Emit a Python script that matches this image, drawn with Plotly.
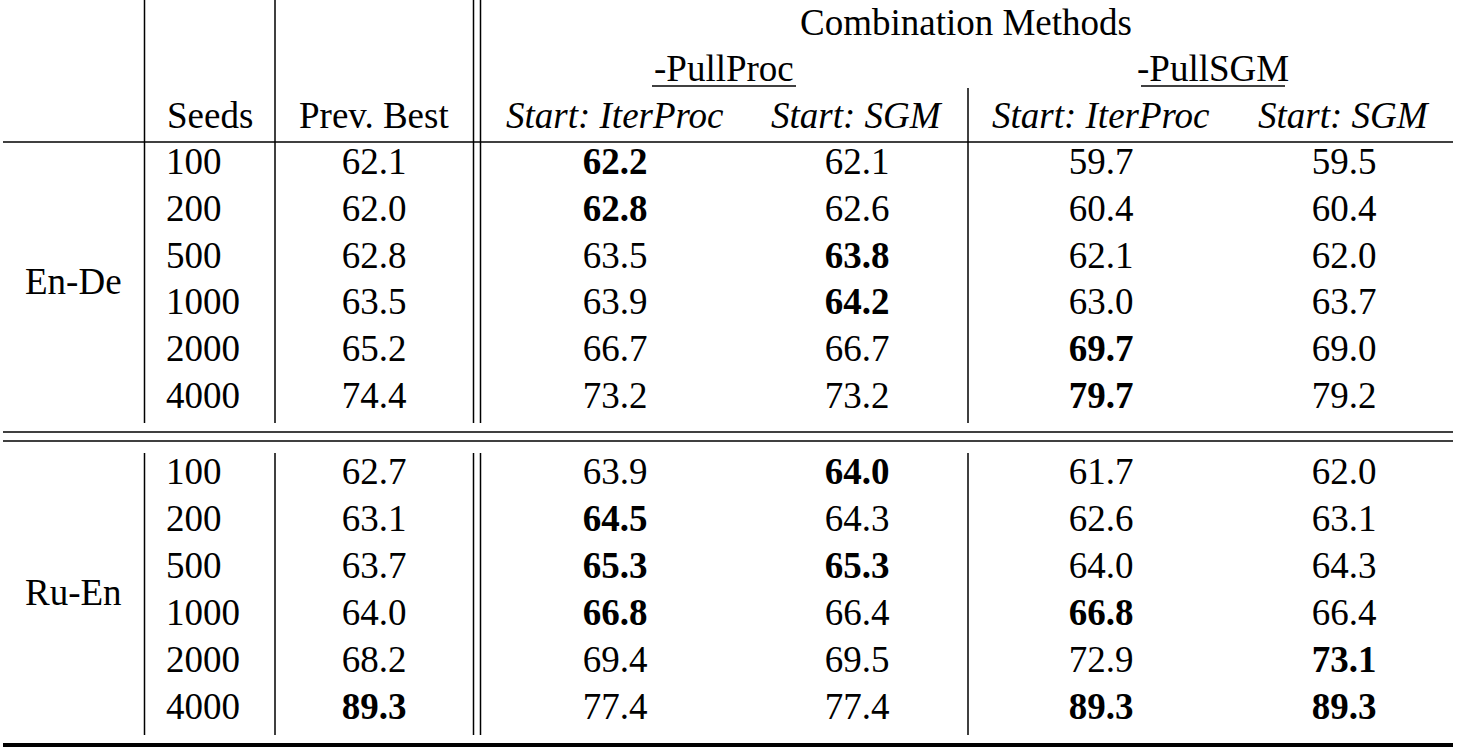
import plotly.graph_objects as go

# table values
pairs = ["En-De", "Ru-En"]
seeds = [100, 200, 500, 1000, 2000, 4000]

en_de_prev = [62.1, 62.0, 62.8, 63.5, 65.2, 74.4]
en_de_pullproc_iter = [62.2, 62.8, 63.5, 63.9, 66.7, 73.2]
en_de_pullproc_sgm = [62.1, 62.6, 63.8, 64.2, 66.7, 73.2]
en_de_pullsgm_iter = [59.7, 60.4, 62.1, 63.0, 69.7, 79.7]
en_de_pullsgm_sgm = [59.5, 60.4, 62.0, 63.7, 69.0, 79.2]

ru_en_prev = [62.7, 63.1, 63.7, 64.0, 68.2, 89.3]
ru_en_pullproc_iter = [63.9, 64.5, 65.3, 66.8, 69.4, 77.4]
ru_en_pullproc_sgm = [64.0, 64.3, 65.3, 66.4, 69.5, 77.4]
ru_en_pullsgm_iter = [61.7, 62.6, 64.0, 66.8, 72.9, 89.3]
ru_en_pullsgm_sgm = [62.0, 63.1, 64.3, 66.4, 73.1, 89.3]

col_headers = ["Seeds", "Prev. Best", "Start: IterProc", "Start: SGM",
               "Start: IterProc", "Start: SGM"]
group_headers = ["-PullProc", "-PullSGM"]
top_header = "Combination Methods"

blocks = {
    "En-De": [en_de_prev, en_de_pullproc_iter, en_de_pullproc_sgm,
              en_de_pullsgm_iter, en_de_pullsgm_sgm],
    "Ru-En": [ru_en_prev, ru_en_pullproc_iter, ru_en_pullproc_sgm,
              ru_en_pullsgm_iter, ru_en_pullsgm_sgm],
}

# layout in pixel units of the 1457x748 page
W, H = 1457, 748
FONT = "Liberation Serif"
FS = 37
col_x = [374, 615, 857, 1101, 1344]   # centers of the numeric columns
seed_x = 166
block_top = {"En-De": 164.5, "Ru-En": 475}
pitch = 46.9

fig = go.Figure()

for name, cols in blocks.items():
    ys = [block_top[name] + i * pitch for i in range(len(seeds))]
    row_max = [max(c[i] for c in cols) for i in range(len(seeds))]
    fig.add_trace(go.Scatter(
        x=[seed_x] * len(seeds), y=ys, mode="text",
        text=[str(s) for s in seeds], textposition="middle right",
        textfont=dict(family=FONT, size=FS, color="black"),
        hoverinfo="skip", showlegend=False))
    for cx, vals in zip(col_x, cols):
        labels = [f"<b>{v:.1f}</b>" if v == m else f"{v:.1f}"
                  for v, m in zip(vals, row_max)]
        fig.add_trace(go.Scatter(
            x=[cx] * len(vals), y=ys, mode="text", text=labels,
            textposition="middle center",
            textfont=dict(family=FONT, size=FS, color="black"),
            hoverinfo="skip", showlegend=False))
    fig.add_annotation(x=73, y=(ys[0] + ys[-1]) / 2, text=name,
                       showarrow=False, xanchor="center", yanchor="middle",
                       font=dict(family=FONT, size=FS, color="black"))

# header text
hdr_y = 115
fig.add_annotation(x=210, y=hdr_y, text=col_headers[0], showarrow=False,
                   yanchor="middle", font=dict(family=FONT, size=FS))
for cx, label in zip(col_x, col_headers[1:]):
    txt = label if label == "Prev. Best" else f"<i>{label}</i>"
    fig.add_annotation(x=cx, y=hdr_y, text=txt, showarrow=False,
                       yanchor="middle", font=dict(family=FONT, size=FS))
for gx, label in zip([724, 1213], group_headers):
    fig.add_annotation(x=gx, y=68, text=label, showarrow=False,
                       yanchor="middle", font=dict(family=FONT, size=FS))
    fig.add_shape(type="line", x0=gx - 72, x1=gx + 72, y0=86, y1=86,
                  line=dict(color="black", width=1.5))
fig.add_annotation(x=966, y=22, text=top_header, showarrow=False,
                   yanchor="middle", font=dict(family=FONT, size=FS))

# rules
def hline(y, w=1.5):
    fig.add_shape(type="line", x0=3, x1=1453, y0=y, y1=y,
                  line=dict(color="black", width=w))

def vline(x, y0, y1):
    fig.add_shape(type="line", x0=x, x1=x, y0=y0, y1=y1,
                  line=dict(color="black", width=1.5))

hline(142)
hline(432)
hline(441)
hline(745, 4)
for x in [144.5, 275, 473.5, 480.5]:
    vline(x, 0, 423)
    vline(x, 453, 735)
vline(968, 88, 423)
vline(968, 453, 735)

fig.update_xaxes(range=[0, W], visible=False, fixedrange=True)
fig.update_yaxes(range=[H, 0], visible=False, fixedrange=True)
fig.update_layout(width=W, height=H, margin=dict(l=0, r=0, t=0, b=0),
                  plot_bgcolor="white", paper_bgcolor="white",
                  font=dict(family=FONT, size=FS, color="black"))

# drop the default 8px page margin so figure pixels line up with the page
fig.write_html("out.html", config={"displayModeBar": False},
               post_script="document.body.style.margin = '0';")
